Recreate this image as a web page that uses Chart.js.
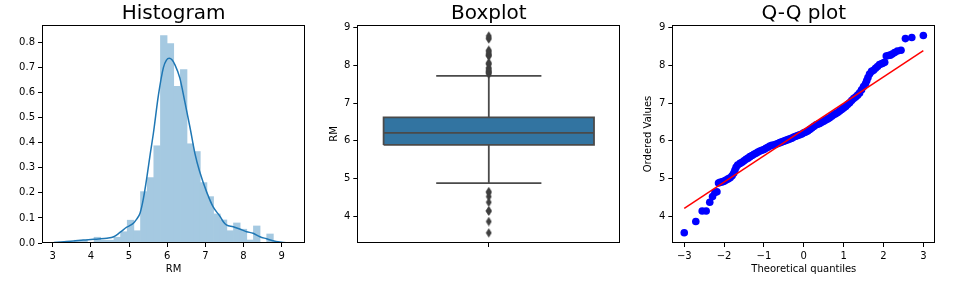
<!DOCTYPE html>
<html>
<head>
<meta charset="utf-8">
<script src="https://cdn.jsdelivr.net/npm/chart.js@4.4.1/dist/chart.umd.min.js"></script>
<style>
  body { margin: 0; background: #fff; }
  #wrap { position: relative; width: 958px; height: 286px; }
  canvas { position: absolute; top: 0; }
</style>
</head>
<body>
<div id="wrap">
  <canvas id="hist" width="320" height="286" style="left:0px"></canvas>
  <canvas id="box" width="320" height="286" style="left:320px"></canvas>
  <canvas id="qq" width="318" height="286" style="left:640px"></canvas>
</div>
<script>
// histogram of RM (density), 30 bins
let binCenters = [3.648, 3.822, 3.996, 4.170, 4.344, 4.518, 4.692, 4.866, 5.040, 5.214,
  5.388, 5.562, 5.736, 5.910, 6.084, 6.258, 6.432, 6.606, 6.780, 6.954,
  7.128, 7.302, 7.476, 7.650, 7.824, 7.998, 8.172, 8.346, 8.520, 8.694];
let binDensity = [0.011, 0.011, 0, 0.023, 0.011, 0.011, 0.023, 0.045, 0.091, 0.049,
  0.205, 0.261, 0.388, 0.828, 0.796, 0.625, 0.692, 0.396, 0.365, 0.241,
  0.185, 0.116, 0.092, 0.049, 0.080, 0.055, 0.012, 0.068, 0, 0.036];

// kde curve
let kdeX = [3.03, 3.30, 3.55, 3.80, 4.00, 4.20, 4.42, 4.60, 4.77, 4.94, 5.05, 5.12, 5.20, 5.29, 5.38,
  5.465, 5.55, 5.64, 5.77, 5.90, 5.98, 6.055, 6.13, 6.20, 6.33, 6.46, 6.60, 6.73, 6.85, 7.03,
  7.20, 7.38, 7.47, 7.55, 7.73, 7.90, 8.08, 8.25, 8.43, 8.60, 8.77, 8.95, 9.12, 9.30];
let kdeY = [0.002, 0.005, 0.008, 0.012, 0.014, 0.016, 0.019, 0.025, 0.043, 0.063, 0.072, 0.080, 0.095, 0.120, 0.180,
  0.260, 0.350, 0.440, 0.590, 0.700, 0.730, 0.737, 0.730, 0.712, 0.659, 0.565, 0.459, 0.355, 0.285, 0.205,
  0.145, 0.107, 0.085, 0.072, 0.065, 0.056, 0.045, 0.039, 0.025, 0.017, 0.009, 0.004, 0.0015, 0.001];

let histXTicks = [3, 4, 5, 6, 7, 8, 9];
let histYTicks = [0, 0.1, 0.2, 0.3, 0.4, 0.5, 0.6, 0.7, 0.8];

// boxplot stats
let boxQ1 = 5.89, boxMedian = 6.21, boxQ3 = 6.62;
let whiskerLow = 4.88, whiskerHigh = 7.72;
let fliers = [3.56, 3.86, 4.14, 4.14, 4.37, 4.52, 4.63, 4.65,
  7.77, 7.80, 7.82, 7.82, 7.85, 7.88, 7.92, 7.93, 8.03, 8.04, 8.07,
  8.25, 8.26, 8.27, 8.30, 8.34, 8.38, 8.40, 8.70, 8.73, 8.78];
let valueTicks = [4, 5, 6, 7, 8, 9];

// q-q plot
let qqTheo = [-3.00, -2.71, -2.55, -2.45, -2.36, -2.29, -2.23, -2.18, -2.14, -2.10, -2.05, -2.00,
  -1.95, -1.90, -1.85, -1.80, -1.76, -1.73, -1.70, -1.66, -1.60, -1.55, -1.50, -1.45, -1.40,
  -1.35, -1.30, -1.25, -1.20, -1.15, -1.10, -1.05, -1.00, -0.95, -0.90, -0.85, -0.80, -0.75,
  -0.70, -0.65, -0.60, -0.55, -0.50, -0.45, -0.40, -0.35, -0.30, -0.25, -0.20, -0.15, -0.10,
  -0.05, 0.00, 0.05, 0.10, 0.15, 0.20, 0.25, 0.30, 0.35, 0.40, 0.45, 0.50, 0.55, 0.60, 0.65,
  0.70, 0.75, 0.80, 0.85, 0.90, 0.95, 1.00, 1.05, 1.10, 1.15, 1.20, 1.25, 1.30, 1.35, 1.40,
  1.45, 1.50, 1.55, 1.58, 1.61, 1.65, 1.70, 1.75, 1.80, 1.85, 1.90, 1.95, 1.99, 2.03, 2.07,
  2.12, 2.17, 2.22, 2.28, 2.35, 2.44, 2.55, 2.71, 3.00];
let qqOrdered = [3.56, 3.86, 4.14, 4.14, 4.37, 4.52, 4.63, 4.65, 4.88, 4.90, 4.91, 4.93,
  4.96, 4.99, 5.02, 5.07, 5.14, 5.22, 5.30, 5.36, 5.40, 5.43, 5.47, 5.51, 5.54,
  5.58, 5.61, 5.64, 5.67, 5.70, 5.73, 5.75, 5.77, 5.80, 5.83, 5.86, 5.88, 5.89,
  5.91, 5.93, 5.95, 5.97, 5.99, 6.01, 6.03, 6.05, 6.07, 6.10, 6.12, 6.14, 6.16,
  6.18, 6.21, 6.23, 6.26, 6.30, 6.34, 6.38, 6.42, 6.44, 6.46, 6.49, 6.52, 6.55, 6.58, 6.61,
  6.65, 6.69, 6.72, 6.75, 6.79, 6.83, 6.87, 6.91, 6.96, 7.01, 7.07, 7.12, 7.16, 7.21, 7.27,
  7.35, 7.44, 7.52, 7.60, 7.68, 7.77, 7.84, 7.87, 7.92, 7.97, 8.02, 8.04, 8.06, 8.08, 8.25,
  8.26, 8.27, 8.30, 8.34, 8.38, 8.40, 8.71, 8.74, 8.79];
let fitX = [-3.0, 3.0];
let fitY = [4.21, 8.39];
let qqXTicks = [-3, -2, -1, 0, 1, 2, 3];

Chart.defaults.font.family = 'DejaVu Sans';
Chart.defaults.font.size = 10;
Chart.defaults.color = '#000';
Chart.defaults.animation = false;

const frame = {
  id: 'frame',
  afterDraw(chart) {
    const {ctx, chartArea: a} = chart;
    ctx.save();
    ctx.strokeStyle = '#000';
    ctx.lineWidth = 1;
    ctx.strokeRect(Math.round(a.left) + 0.5, Math.round(a.top) + 0.5,
      Math.round(a.right - a.left) - 1, Math.round(a.bottom - a.top) - 1);
    ctx.restore();
  }
};

function fmt(v) {
  return v < 0 ? '\u2212' + Math.abs(v) : String(v);
}

function scale(min, max, ticks, size, label, cb, extra) {
  const s = {
    type: 'linear',
    min: min,
    max: max,
    offset: false,
    border: { display: false },
    grid: { display: true, offset: false, drawOnChartArea: false, drawTicks: true, tickLength: 4, tickColor: '#000', tickWidth: 1 },
    ticks: { padding: 3, color: '#000', autoSkip: false, maxRotation: 0, callback: cb || fmt },
    afterBuildTicks: sc => { sc.ticks = ticks.map(v => ({ value: v })); },
    afterFit: sc => { if (sc.isHorizontal()) sc.height = size; else sc.width = size; }
  };
  if (label) s.title = Object.assign({ display: true, text: label, color: '#000', font: { size: 10 } }, extra);
  return s;
}

function titleOpts(text) {
  return {
    display: true, text: text, fullSize: false, color: '#000',
    font: { size: 20, weight: 'normal', lineHeight: 1.15 },
    padding: { top: 2, bottom: 0 }
  };
}

const basePlugins = t => ({ legend: { display: false }, tooltip: { enabled: false }, title: titleOpts(t) });

// histogram
new Chart(document.getElementById('hist'), {
  type: 'bar',
  data: {
    datasets: [{
      type: 'line',
      data: kdeX.map((x, i) => ({ x: x, y: kdeY[i] })),
      borderColor: '#1f77b4',
      borderWidth: 1.5,
      pointRadius: 0,
      cubicInterpolationMode: 'monotone',
      fill: false
    }, {
      type: 'bar',
      data: binCenters.map((x, i) => ({ x: x, y: binDensity[i] })),
      backgroundColor: '#a5c9e1',
      borderWidth: 0,
      barPercentage: 1,
      categoryPercentage: 1
    }]
  },
  options: {
    responsive: false,
    layout: { padding: { left: 0, right: 15, top: 0, bottom: 0 } },
    plugins: basePlugins('Histogram'),
    scales: {
      x: scale(2.72, 9.61, histXTicks, 43, 'RM', null, { padding: { top: 0, bottom: 11 } }),
      y: scale(0, 0.87, histYTicks, 42, null, v => v.toFixed(1))
    }
  },
  plugins: [frame]
});

// boxplot
const diamond = document.createElement('canvas');
diamond.width = 7; diamond.height = 10;
(function () {
  const c = diamond.getContext('2d');
  c.fillStyle = '#3f3f3f';
  c.beginPath();
  c.moveTo(3.5, 0.2); c.lineTo(6.4, 5); c.lineTo(3.5, 9.8); c.lineTo(0.6, 5);
  c.closePath();
  c.fill();
})();

const boxHalf = 0.4, capHalf = 0.2, gray = '#4a4a4a';
const seg = (pts, extra) => Object.assign({
  data: pts, showLine: true, borderColor: gray, borderWidth: 1.8, pointRadius: 0, fill: false, tension: 0
}, extra);

new Chart(document.getElementById('box'), {
  type: 'scatter',
  data: {
    datasets: [
      {
        data: fliers.map(v => ({ x: 0, y: v })),
        pointStyle: diamond,
        pointRadius: 3,
        showLine: false
      },
      seg([{ x: -capHalf, y: whiskerHigh }, { x: capHalf, y: whiskerHigh }]),
      seg([{ x: -capHalf, y: whiskerLow }, { x: capHalf, y: whiskerLow }]),
      seg([{ x: 0, y: boxQ3 }, { x: 0, y: whiskerHigh }]),
      seg([{ x: 0, y: whiskerLow }, { x: 0, y: boxQ1 }]),
      seg([{ x: -boxHalf, y: boxMedian }, { x: boxHalf, y: boxMedian }]),
      seg([{ x: -boxHalf, y: boxQ1 }, { x: boxHalf, y: boxQ1 }, { x: boxHalf, y: boxQ3 },
           { x: -boxHalf, y: boxQ3 }, { x: -boxHalf, y: boxQ1 }],
          { fill: 'shape', backgroundColor: '#3274a1' })
    ]
  },
  options: {
    responsive: false,
    layout: { padding: { left: 0, right: 19.7, top: 0, bottom: 0 } },
    plugins: basePlugins('Boxplot'),
    scales: {
      x: scale(-0.5, 0.5, [0], 43, null, () => ''),
      y: scale(3.29, 9.07, valueTicks, 37.3, 'RM', null, { padding: { top: 8, bottom: 0 } })
    }
  },
  plugins: [frame]
});

// q-q plot
new Chart(document.getElementById('qq'), {
  type: 'scatter',
  data: {
    datasets: [{
      data: fitX.map((x, i) => ({ x: x, y: fitY[i] })),
      showLine: true,
      borderColor: '#ff0000',
      borderWidth: 1.5,
      pointRadius: 0
    }, {
      data: qqTheo.map((x, i) => ({ x: x, y: qqOrdered[i] })),
      backgroundColor: '#0000ff',
      borderWidth: 0,
      pointRadius: 3.8
    }]
  },
  options: {
    responsive: false,
    layout: { padding: { left: 0, right: 22.7, top: 0, bottom: 0 } },
    plugins: basePlugins('Q-Q plot'),
    scales: {
      x: scale(-3.3, 3.3, qqXTicks, 43, 'Theoretical quantiles', null, { padding: { top: 0, bottom: 11 } }),
      y: scale(3.29, 9.07, valueTicks, 32.3, 'Ordered Values', null, { padding: { top: 2, bottom: 0 } })
    }
  },
  plugins: [frame]
});
</script>
</body>
</html>
